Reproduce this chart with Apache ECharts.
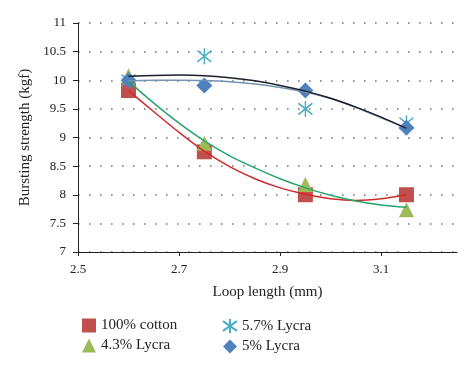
<!DOCTYPE html>
<html>
<head>
<meta charset="utf-8">
<script src="https://cdn.jsdelivr.net/npm/echarts@6/dist/echarts.min.js"></script>
<style>html,body{margin:0;padding:0;background:#fff;}#c{width:474px;height:368px;}</style>
</head>
<body>
<div id="c"></div>
<script>
var loopLength = [2.6, 2.75, 2.95, 3.15];
var cotton = [9.82, 8.75, 8.0, 8.0];
var lycra43 = [10.08, 8.9, 8.18, 7.74];
var lycra57 = [10.0, 10.42, 9.5, 9.25];
var lycra5 = [10.0, 9.91, 9.82, 9.17];

var trendX = [2.6, 2.65, 2.7, 2.75, 2.8, 2.85, 2.9, 2.95, 3.0, 3.05, 3.1, 3.15];
var cottonTrend = [9.82, 9.45, 9.09, 8.76, 8.49, 8.28, 8.12, 8.01, 7.93, 7.90, 7.93, 8.0];
var lycra43Trend = [9.98, 9.60, 9.25, 8.94, 8.68, 8.47, 8.28, 8.12, 7.99, 7.89, 7.82, 7.78];
var lycra57Trend = [10.07, 10.085, 10.09, 10.08, 10.045, 9.99, 9.91, 9.81, 9.685, 9.53, 9.355, 9.16];
var lycra5Trend = [9.99, 10.0, 10.0, 9.995, 9.975, 9.935, 9.875, 9.795, 9.68, 9.525, 9.345, 9.16];

var xTicks = [2.5, 2.7, 2.9, 3.1];
var yTicks = [7, 7.5, 8, 8.5, 9, 9.5, 10, 10.5, 11];

function pairs(xs, ys) { return xs.map(function (x, i) { return [x, ys[i]]; }); }

var FONT = '"Liberation Serif", "DejaVu Serif", serif';
var starPath = 'path://M10,0L10,20M0,3L20,17M0,17L20,3';

var chart = echarts.init(document.getElementById('c'), null, {renderer: 'canvas'});
chart.setOption({
  animation: false,
  textStyle: {fontFamily: FONT},
  grid: {left: 78, top: 23, right: 17, bottom: 116},
  xAxis: {
    type: 'value', min: 2.5, max: 3.25, interval: 0.2,
    name: 'Loop length (mm)', nameLocation: 'middle', nameGap: 33,
    nameTextStyle: {fontFamily: FONT, fontSize: 15, color: '#222'},
    axisLine: {show: true, lineStyle: {color: '#222', width: 1}},
    axisTick: {show: true, length: 4, lineStyle: {color: '#222'}},
    axisLabel: {showMaxLabel: false, margin: 11, fontFamily: FONT, fontSize: 13, color: '#222',
      formatter: function (v) { return xTicks.indexOf(Math.round(v * 10) / 10) >= 0 ? String(Math.round(v * 10) / 10) : ''; }},
    splitLine: {show: false}
  },
  yAxis: {
    type: 'value', min: 7, max: 11, interval: 0.5,
    name: 'Bursting strength (kgf)', nameLocation: 'middle', nameGap: 44,
    nameTextStyle: {fontFamily: FONT, fontSize: 15, color: '#222'},
    axisLine: {show: true, lineStyle: {color: '#222', width: 1}},
    axisTick: {show: true, length: 5, lineStyle: {color: '#222'}},
    axisLabel: {margin: 12, fontFamily: FONT, fontSize: 13, color: '#222',
      formatter: function (v) { return yTicks.indexOf(v) >= 0 ? String(v) : ''; }},
    splitLine: {show: true, lineStyle: {color: '#777', type: [1.6, 9.4], width: 1.6}}
  },
  legend: [
    {left: 77, top: 313, orient: 'vertical', itemWidth: 14, itemHeight: 14, itemGap: 5,
     textStyle: {fontFamily: FONT, fontSize: 15, color: '#222', lineHeight: 15},
     data: ['100% cotton', '4.3% Lycra']},
    {left: 217, top: 313, orient: 'vertical', itemWidth: 14, itemHeight: 14, itemGap: 5,
     textStyle: {fontFamily: FONT, fontSize: 15, color: '#222', lineHeight: 15},
     data: ['5.7% Lycra', '5% Lycra']}
  ],
  series: [
    {name: '100% cotton', type: 'scatter', z: 2, symbol: 'rect', symbolSize: 15,
     itemStyle: {color: '#C0504D', opacity: 1}, data: pairs(loopLength, cotton)},
    {name: '4.3% Lycra', type: 'scatter', z: 2, symbol: 'triangle', symbolSize: 15,
     itemStyle: {color: '#9BBB59', opacity: 1}, data: pairs(loopLength, lycra43)},
    {name: '5.7% Lycra', type: 'scatter', z: 2, symbol: starPath, symbolSize: [14, 16],
     itemStyle: {color: 'rgba(0,0,0,0)', borderColor: '#4BACC6', borderWidth: 1.5, opacity: 1},
     data: pairs(loopLength, lycra57)},
    {name: '5% Lycra', type: 'scatter', z: 2, symbol: 'diamond', symbolSize: 16,
     itemStyle: {color: '#4F81BD', opacity: 1}, data: pairs(loopLength, lycra5)},
    {name: 'cottonTrend', type: 'line', z: 3, smooth: 0.3, showSymbol: false, silent: true,
     lineStyle: {color: '#D02A2A', width: 1.5}, data: pairs(trendX, cottonTrend)},
    {name: 'lycra43Trend', type: 'line', z: 3, smooth: 0.3, showSymbol: false, silent: true,
     lineStyle: {color: '#26A46A', width: 1.5}, data: pairs(trendX, lycra43Trend)},
    {name: 'lycra5Trend', type: 'line', z: 3, smooth: 0.3, showSymbol: false, silent: true,
     lineStyle: {color: '#7592B4', width: 1.5}, data: pairs(trendX, lycra5Trend)},
    {name: 'lycra57Trend', type: 'line', z: 4, smooth: 0.3, showSymbol: false, silent: true,
     lineStyle: {color: '#1B1F2E', width: 1.5}, data: pairs(trendX, lycra57Trend)}
  ]
});
</script>
</body>
</html>
